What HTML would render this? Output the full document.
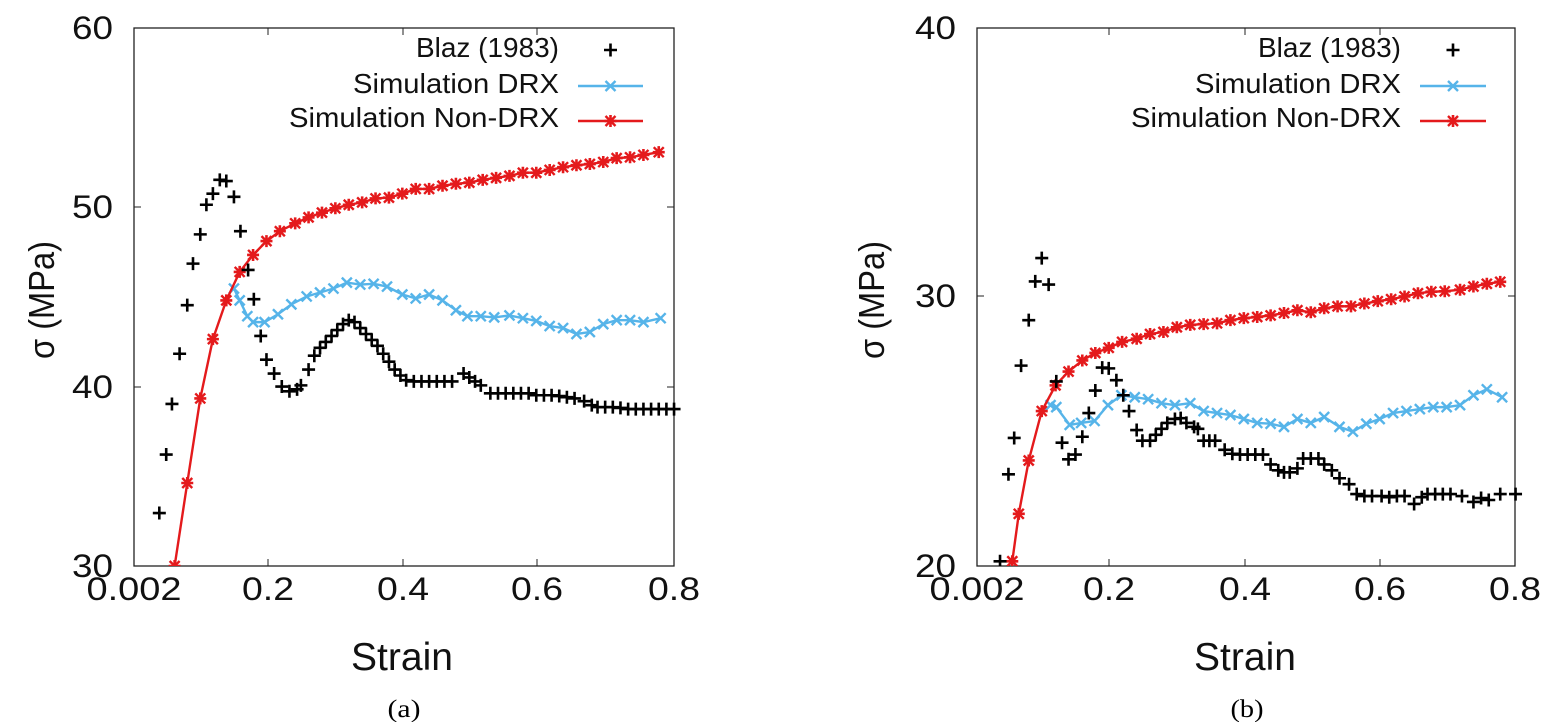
<!DOCTYPE html>
<html><head><meta charset="utf-8"><style>
body{margin:0;background:#fff;}
svg{display:block;font-family:"Liberation Sans",sans-serif;}
</style></head><body>
<svg id="s" width="1551" height="722" xmlns="http://www.w3.org/2000/svg">
<rect width="1551" height="722" fill="#fff"/>
</svg>
<script>
const S=document.getElementById('s');let h='';
function add(x){h+=x;}
const panels=[
{ox:100,L:134,R:674,T:28,B:566,yt:[["60",28],["50",207],["40",387],["30",566]],xt:[["0.002",134],["0.2",268],["0.4",403],["0.6",537],["0.8",674]],sig:42,strain:402,lab:"(a)",lx:404,legT:559,legA:578,legB:643,
blaz:[[155,1298],[173,1150],[188,1022],[208,895],[228,772],[243,667],[262,593],[278,518],[295,490],[313,455],[330,458],[350,498],[367,585],[387,683],[402,757],[420,850],[435,910],[455,945],[475,978],[495,990],[515,985],[525,975],[545,935],[560,900],[575,880],[590,865],[605,850],[620,835],[635,820],[650,810],[665,815],[680,830],[695,845],[710,860],[725,875],[740,895],[755,915],[770,935],[785,950],[800,962],[820,965],[840,965],[860,965],[880,965],[900,965],[920,965],[950,945],[965,955],[980,965],[995,975],[1020,995],[1040,995],[1060,995],[1080,995],[1100,995],[1120,995],[1140,1000],[1160,1000],[1180,1000],[1200,1002],[1220,1005],[1240,1008],[1265,1015],[1285,1025],[1300,1030],[1320,1030],[1340,1030],[1360,1032],[1380,1035],[1400,1035],[1420,1035],[1440,1035],[1460,1035],[1480,1035],[1500,1035]],
red:[[195,1432],[228,1222],[262,1008],[295,858],[330,760],[365,688],[400,645],[435,610],[470,585],[510,565],[545,550],[580,538],[615,527],[650,518],[685,512],[720,502],[755,500],[790,490],[825,478],[860,478],[895,470],[930,465],[965,462],[1000,455],[1035,450],[1070,445],[1105,437],[1140,437],[1175,430],[1210,423],[1245,418],[1280,415],[1315,410],[1350,400],[1385,398],[1420,392],[1460,385]],
blue:[[350,730],[365,760],[385,800],[400,815],[430,815],[465,795],[500,770],[540,750],[575,740],[610,730],[645,715],[680,720],[715,718],[750,725],[790,745],[825,755],[860,745],[895,760],[930,785],[960,800],[995,800],[1030,803],[1070,798],[1105,805],[1140,812],[1175,825],[1210,830],[1245,845],[1280,840],[1315,820],[1350,810],[1385,810],[1420,815],[1465,805]]},
{ox:930,L:977,R:1515,T:28,B:566,yt:[["40",28],["30",296],["20",566]],xt:[["0.002",977],["0.2",1109],["0.4",1245],["0.6",1380],["0.8",1515]],sig:872,strain:1245,lab:"(b)",lx:1247,legT:1401,legA:1420,legB:1486,
blaz:[[183,1420],[205,1200],[220,1108],[238,925],[258,810],[275,712],[292,653],[310,720],[330,965],[345,1120],[362,1162],[380,1150],[398,1105],[415,1045],[432,988],[450,930],[467,932],[487,962],[505,1000],[520,1040],[540,1088],[555,1115],[575,1115],[590,1100],[605,1085],[620,1070],[640,1060],[655,1058],[670,1070],[690,1080],[700,1085],[715,1115],[730,1115],[745,1115],[770,1138],[790,1148],[810,1150],[830,1150],[850,1150],[870,1150],[890,1175],[910,1190],[925,1195],[940,1195],[960,1185],[975,1160],[995,1160],[1015,1160],[1030,1175],[1050,1190],[1070,1210],[1095,1225],[1115,1250],[1135,1255],[1155,1255],[1180,1255],[1200,1258],[1220,1255],[1240,1255],[1265,1275],[1285,1258],[1300,1250],[1320,1250],[1340,1250],[1360,1250],[1390,1255],[1420,1270],[1440,1260],[1460,1265],[1490,1250],[1530,1250]],
red:[[215,1420],[232,1300],[258,1165],[292,1040],[328,975],[362,940],[398,912],[432,893],[467,880],[502,865],[540,857],[575,845],[610,840],[645,828],[680,822],[715,820],[750,818],[785,810],[820,805],[855,802],[890,798],[925,792],[960,785],[995,790],[1030,780],[1065,775],[1100,775],[1135,768],[1170,762],[1205,757],[1240,750],[1275,742],[1310,738],[1345,737],[1385,733],[1420,725],[1455,718],[1490,713]],
blue:[[315,1025],[330,1030],[365,1075],[395,1070],[430,1065],[465,1025],[500,1000],[535,1005],[570,1010],[605,1020],[640,1025],[680,1020],[715,1040],[750,1045],[785,1050],[820,1060],[855,1070],[890,1072],[925,1080],[960,1060],[995,1070],[1030,1055],[1070,1080],[1105,1092],[1140,1072],[1175,1060],[1210,1045],[1245,1040],[1280,1035],[1315,1030],[1350,1030],[1385,1025],[1420,1000],[1455,985],[1495,1005]]}
];
function plus(x,y,c,s){return `<path d="M${x-s} ${y}H${x+s}M${x} ${y-s}V${y+s}" stroke="${c}" stroke-width="2.6"/>`;}
function cross(x,y,c,s){return `<path d="M${x-s} ${y-s}L${x+s} ${y+s}M${x-s} ${y+s}L${x+s} ${y-s}" stroke="${c}" stroke-width="2.4"/>`;}
const BL='#56b4e9',RD='#e41a1c';
const TL={"0.002":95,"0.2":52,"0.4":52,"0.6":52,"0.8":52};
for(const p of panels){
 const tr=a=>[p.ox+a[0]/2.613,a[1]/2.53];
 add(`<rect x="${p.L}" y="${p.T}" width="${p.R-p.L}" height="${p.B-p.T}" fill="none" stroke="#222" stroke-width="1.3"/>`);
 for(const [t,y] of p.yt){add(`<text x="${p.L-21}" y="${y+11}" font-size="32" text-anchor="end" textLength="41" lengthAdjust="spacingAndGlyphs" fill="#111">${t}</text>`);
  add(`<path d="M${p.L} ${y}h7M${p.R} ${y}h-7" stroke="#222"/>`);}
 for(const [t,x] of p.xt){add(`<text x="${x}" y="600" font-size="32" text-anchor="middle" textLength="${TL[t]}" lengthAdjust="spacingAndGlyphs" fill="#111">${t}</text>`);
  add(`<path d="M${x} ${p.B}v-7M${x} ${p.T}v7" stroke="#222"/>`);}
 add(`<text transform="translate(${p.sig+12},300) rotate(-90)" font-size="36" text-anchor="middle" textLength="118" lengthAdjust="spacingAndGlyphs" fill="#111">σ (MPa)</text>`);
 add(`<text x="${p.strain}" y="670" font-size="39" text-anchor="middle" fill="#111">Strain</text>`);
 add(`<text x="${p.lx}" y="717" font-size="25" text-anchor="middle" textLength="33" lengthAdjust="spacingAndGlyphs" font-family="Liberation Serif,serif">${p.lab}</text>`);
 const cid='c'+p.ox;
 add(`<clipPath id="${cid}"><rect x="${p.L}" y="${p.T}" width="${p.R-p.L+8}" height="${p.B-p.T}"/></clipPath><g clip-path="url(#${cid})">`);
 const red=p.red.map(tr),blue=p.blue.map(tr),bl=p.blaz.map(tr);
 add(`<polyline points="${blue.map(a=>a.join(',')).join(' ')}" fill="none" stroke="${BL}" stroke-width="2.4"/>`);
 blue.forEach(a=>add(cross(a[0],a[1],BL,5)));
 add(`<polyline points="${red.map(a=>a.join(',')).join(' ')}" fill="none" stroke="${RD}" stroke-width="2.4"/>`);
 red.forEach(a=>{add(cross(a[0],a[1],RD,5));add(plus(a[0],a[1],RD,6));});
 bl.forEach(a=>add(plus(a[0],a[1],'#000',6.5)));
 add(`</g>`);
 const ly=[47,83,117];
 const labs=[["Blaz (1983)",143],["Simulation DRX",206],["Simulation Non-DRX",270]];
 labs.forEach((t,i)=>add(`<text x="${p.legT}" y="${ly[i]+10}" font-size="28" text-anchor="end" textLength="${t[1]}" lengthAdjust="spacingAndGlyphs" fill="#111">${t[0]}</text>`));
 const mx=(p.legA+p.legB)/2;
 add(plus(mx,ly[0]+3,'#000',6.5));
 add(`<path d="M${p.legA} ${ly[1]+3}H${p.legB}" stroke="${BL}" stroke-width="2.4"/>`+cross(mx,ly[1]+3,BL,5));
 add(`<path d="M${p.legA} ${ly[2]+4}H${p.legB}" stroke="${RD}" stroke-width="2.4"/>`+cross(mx,ly[2]+4,RD,5)+plus(mx,ly[2]+4,RD,6));
}
S.insertAdjacentHTML('beforeend',h);
</script>
</body></html>
